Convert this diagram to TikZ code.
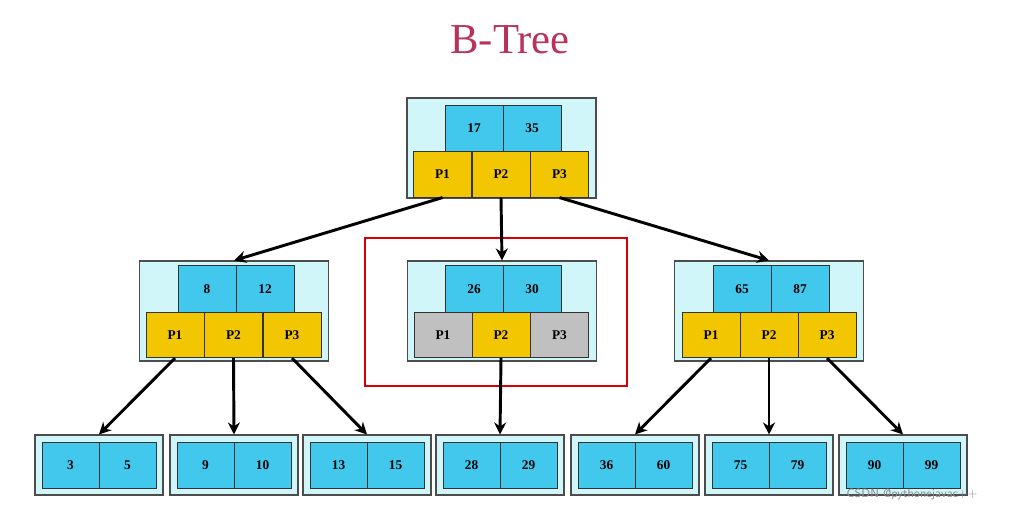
\documentclass[tikz,border=0pt]{standalone}
\usepackage{fontspec}
\setmainfont{Liberation Serif}
\usetikzlibrary{arrows.meta, positioning}
\definecolor{keycyan}{RGB}{66,200,236}
\definecolor{ptryellow}{RGB}{242,198,0}
\definecolor{ptrgrey}{RGB}{192,192,192}
\definecolor{boxcyan}{RGB}{208,246,250}
\definecolor{titlered}{RGB}{185,50,90}
\tikzset{outer/.style={draw=black!70, fill=boxcyan, line width=0.8pt, minimum width=141.75pt, minimum height=75pt, inner sep=0pt}}
\tikzset{key/.style={draw=black!80, fill=keycyan, line width=0.6pt, minimum width=43.5pt, minimum height=35pt, inner sep=0pt, font=\bfseries}}
\tikzset{ptr/.style={key, fill=ptryellow, minimum height=34pt}}
\tikzset{ptrg/.style={ptr, fill=ptrgrey}}
\tikzset{leafbox/.style={outer, minimum width=96pt, minimum height=45pt}}
\tikzset{leafkey/.style={key, minimum width=42.75pt, minimum height=34.5pt}}
\tikzset{link/.style={line width=2.2pt, -{Stealth[length=9pt, width=9pt]}}}
\begin{document}
\begin{tikzpicture}[x=0.75pt, y=-0.75pt]
            \useasboundingbox (0,0) rectangle (1027,515);
            \node [font=\fontsize{32}{36}\selectfont, text=titlered] (title) at (510,40) {B-Tree};

            % root
            \node [outer] (R) at (501.5,148) {};
            \node [key] (Rk1) at (474,128.5) {17};
            \node [key] (Rk2) at (532,128.5) {35};
            \node [ptr] (Rp1) at (442.5,174.5) {P1};
            \node [ptr] (Rp2) at (501,174.5) {P2};
            \node [ptr] (Rp3) at (559.5,174.5) {P3};

            % left
            \node [outer] (L) at (234,311) {};
            \node [key] (Lk1) at (207,289) {8};
            \node [key] (Lk2) at (265,289) {12};
            \node [ptr] (Lp1) at (175,335) {P1};
            \node [ptr] (Lp2) at (233.5,335) {P2};
            \node [ptr] (Lp3) at (292,335) {P3};

            % middle
            \node [draw=red!85!black, line width=1.5pt, minimum width=196.5pt, minimum height=111pt] (frame) at (496,312) {};
            \node [outer] (M) at (502,311) {};
            \node [key] (Mk1) at (474,289) {26};
            \node [key] (Mk2) at (532,289) {30};
            \node [ptrg] (Mp1) at (443,335) {P1};
            \node [ptr] (Mp2) at (501,335) {P2};
            \node [ptrg] (Mp3) at (559.5,335) {P3};

            % right
            \node [outer] (Q) at (769,311) {};
            \node [key] (Qk1) at (742,289) {65};
            \node [key] (Qk2) at (800,289) {87};
            \node [ptr] (Qp1) at (711,335) {P1};
            \node [ptr] (Qp2) at (769,335) {P2};
            \node [ptr] (Qp3) at (827,335) {P3};

            % leaves
            \foreach \name/\cx/\a/\b in {A/99/3/5, B/234/9/10, C/367/13/15, D/500/28/29, E/635/36/60, F/769/75/79, G/903/90/99} {
                \node [leafbox] (\name) at (\cx,465) {};
                \node [leafkey] (\name1) at (\cx-28.5,465) {\a};
                \node [leafkey] (\name2) at (\cx+28.5,465) {\b};
            }

            \draw [link] (Rp1.south) -- (L.north);
            \draw [link] (Rp2.south) -- (M.north);
            \draw [link] (Rp3.south) -- (Q.north);
            \draw [link] (Lp1.south) -- (A.north);
            \draw [link] (Lp2.south) -- (B.north);
            \draw [link] (Lp3.south) -- (C.north);
            \draw [link] (Mp2.south) -- (D.north);
            \draw [link] (Qp1.south) -- (E.north);
            \draw [link] (Qp2.south) -- (F.north);
            \draw [link] (Qp3.south) -- (G.north);

            \node [text=black!45, font=\sffamily\small] (mark) at (912,494) {CSDN @pythonejavac++};
        \end{tikzpicture}
\end{document}
